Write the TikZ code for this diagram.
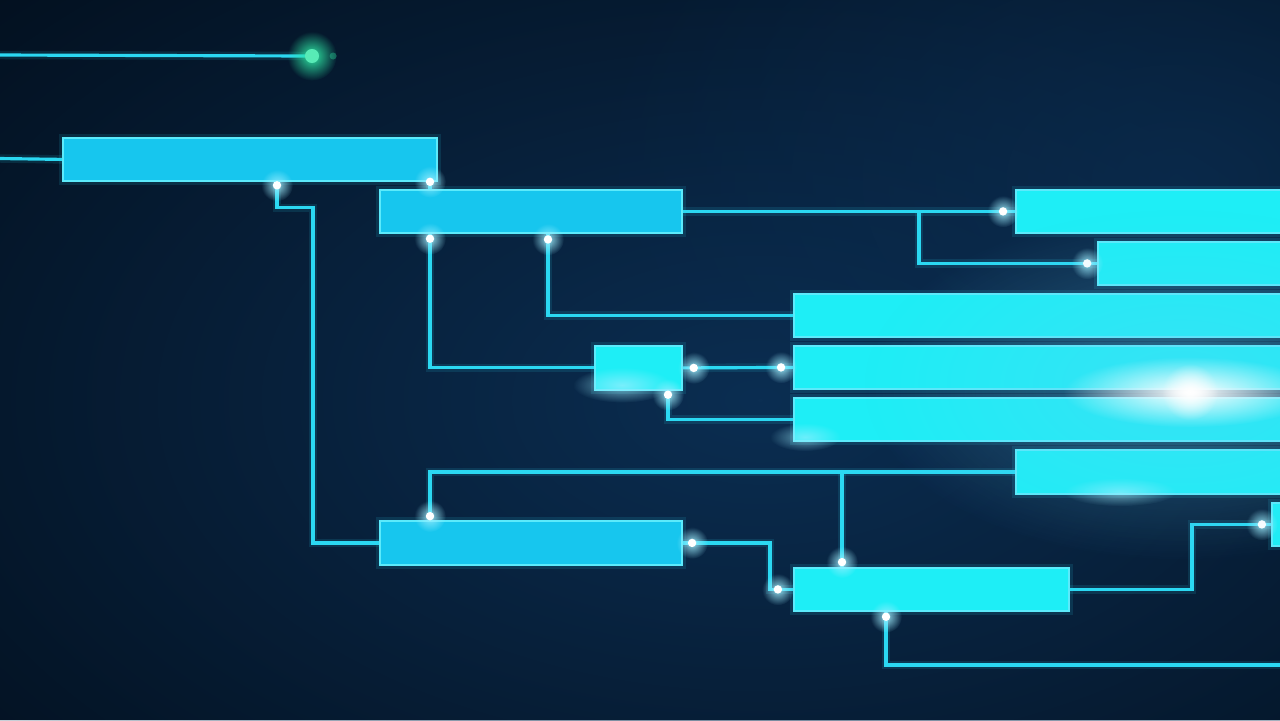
\documentclass[tikz,border=0pt]{standalone}
\usepackage{tikz}
\usetikzlibrary{arrows.meta,fadings}

\definecolor{bgdeep}{HTML}{020C18}
\definecolor{bgmid}{HTML}{0B2E52}
\definecolor{wirecyan}{HTML}{2BD8F2}
\definecolor{barblue}{HTML}{17C6EE}
\definecolor{barcyan}{HTML}{1EEEF6}
\definecolor{barrim}{HTML}{5CEAFB}
\definecolor{halo}{HTML}{9FEFFF}
\definecolor{pulsegreen}{HTML}{2EE6A4}

\tikzfading[name=glowfade, inner color=transparent!0, outer color=transparent!100]

% glowing solder point
\newcommand{\spark}[1]{%
  \fill[halo, path fading=glowfade, opacity=0.9] (#1) circle (4.5pt);
  \fill[white] (#1) circle (1.2pt);
}

\tikzset{
  bar/.style 2 args={shape=rectangle, anchor=north west, inner sep=0pt,
    minimum width=#1, minimum height=#2, draw=barrim, line width=0.5pt,
    preaction={draw=wirecyan, line width=2.4pt, opacity=0.12}},
  leftbar/.style={fill=barblue},
  rightbar/.style={fill=barcyan},
  wire/.style={draw=wirecyan, line width=0.9pt,
    preaction={draw=wirecyan, line width=2.4pt, opacity=0.12}},
}

\begin{document}
\begin{tikzpicture}[x=0.01cm, y=-0.01cm]
  \useasboundingbox (0,0) rectangle (1280,720);
  \fill[bgdeep] (0,0) rectangle (1280,720);
  \fill[bgmid, path fading=glowfade] (760,400) ellipse (12cm and 7cm);
  \fill[bgmid, path fading=glowfade, opacity=0.7] (1180,180) ellipse (6cm and 4cm);

  % bars
  \node[bar={3.74cm}{0.43cm}, leftbar] (A) at (62,137) {};
  \node[bar={3.02cm}{0.43cm}, leftbar] (B) at (379,189) {};
  \node[bar={3.02cm}{0.44cm}, leftbar] (D) at (379,520) {};
  \node[bar={0.87cm}{0.44cm}, rightbar] (S) at (594,345) {};
  \node[bar={2.9cm}{0.43cm}, rightbar] (R1) at (1015,189) {};
  \node[bar={2.1cm}{0.43cm}, rightbar] (R2) at (1097,241) {};
  \node[bar={5.1cm}{0.43cm}, rightbar] (F1) at (793,293) {};
  \node[bar={5.1cm}{0.43cm}, rightbar] (F2) at (793,345) {};
  \node[bar={5.1cm}{0.43cm}, rightbar] (F3) at (793,397) {};
  \node[bar={2.9cm}{0.44cm}, rightbar] (G) at (1015,449) {};
  \node[bar={2.75cm}{0.43cm}, rightbar] (H) at (793,567) {};
  \node[bar={0.4cm}{0.43cm}, rightbar] (I) at (1271,502) {};

  \coordinate (feed) at (0,158.5);
  \coordinate (trail) at (0,55);
  \coordinate (pulse) at (312,56);
  \coordinate (exitR) at (1290,665);

  % wires
  \draw[wire] (trail) -- (pulse);
  \draw[wire] (feed) -- (A.west);
  \draw[wire] (A.south west) ++(368,0) coordinate (a2) -- (a2 |- B.north);
  \draw[wire] (A.south west) ++(215,0) coordinate (a1) |- ++(36,26) |- (D.west);
  \draw[wire] (B.east) -- (R1.west);
  \draw[wire] (B.east) ++(236,0) coordinate (b3) |- (R2.west);
  \draw[wire] (B.south west) ++(169,0) coordinate (b2) |- (F1.west);
  \draw[wire] (B.south west) ++(51,0) coordinate (b1) |- (S.west);
  \draw[wire] (S.east) -- (F2.west);
  \draw[wire] (S.south west) ++(74,0) coordinate (s1) |- (F3.west);
  \draw[wire] (D.north west) ++(51,0) coordinate (d1) |- (G.west);
  \draw[wire] (H.north west) ++(49,0) coordinate (h1) -- (h1 |- G.west);
  \draw[wire] (D.east) -- ++(87,0) |- (H.west);
  \draw[wire] (H.east) -- ++(122,0) |- (I.west);
  \draw[wire] (H.south west) ++(93,0) coordinate (h2) |- (exitR);

  % solder points
  \spark{a2}
  \spark{[yshift=-1pt]a1}
  \spark{[yshift=-1.4pt]b1}
  \spark{[yshift=-1.6pt]b2}
  \spark{[xshift=-3.4pt]R1.west}
  \spark{[xshift=-2.8pt]R2.west}
  \spark{[xshift=3.1pt]S.east}
  \spark{[xshift=-3.4pt]F2.west}
  \spark{[yshift=-1.1pt]s1}
  \spark{[yshift=1.1pt]d1}
  \spark{[yshift=1.4pt]h1}
  \spark{[xshift=2.6pt]D.east}
  \spark{[xshift=-4.3pt]H.west}
  \spark{[xshift=-2.6pt]I.west}
  \spark{[yshift=-1.4pt]h2}

  % green pulse
  \fill[pulsegreen, path fading=glowfade] (pulse) circle (7pt);
  \fill[pulsegreen!80!white] (pulse) circle (2pt);
  \fill[pulsegreen, opacity=0.35] ([xshift=6pt]pulse) circle (1pt);

  % flares
  \fill[cyan!60!white, path fading=glowfade, opacity=0.35] (1180,385) ellipse (90pt and 50pt);
  \fill[white, path fading=glowfade] (1190,392) ellipse (36pt and 10pt);
  \fill[white, path fading=glowfade] (1190,392) circle (8pt);
  \fill[halo, path fading=glowfade, opacity=0.7] (622,385) ellipse (14pt and 5pt);
  \fill[halo, path fading=glowfade, opacity=0.6] (805,437) ellipse (10pt and 4pt);
  \fill[halo, path fading=glowfade, opacity=0.6] (1120,492) ellipse (16pt and 4pt);
\end{tikzpicture}
\end{document}
